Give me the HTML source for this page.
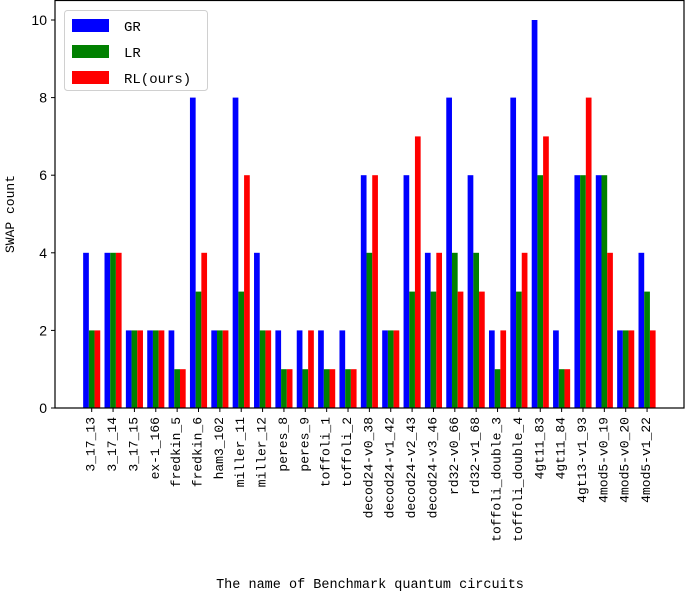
<!DOCTYPE html>
<html><head><meta charset="utf-8"><style>
body{margin:0;background:#fff;}
svg text{font-family:"Liberation Mono","Noto Sans CJK SC",monospace;fill:#000;}
</style></head><body>
<svg id="chart" width="685" height="595" xmlns="http://www.w3.org/2000/svg"></svg>
<script>
const categories=["3_17_13","3_17_14","3_17_15","ex-1_166","fredkin_5","fredkin_6","ham3_102","miller_11","miller_12","peres_8","peres_9","toffoli_1","toffoli_2","decod24-v0_38","decod24-v1_42","decod24-v2_43","decod24-v3_46","rd32-v0_66","rd32-v1_68","toffoli_double_3","toffoli_double_4","4gt11_83","4gt11_84","4gt13-v1_93","4mod5-v0_19","4mod5-v0_20","4mod5-v1_22"];
const grValues=[4,4,2,2,2,8,2,8,4,2,2,2,2,6,2,6,4,8,6,2,8,10,2,6,6,2,4];
const lrValues=[2,4,2,2,1,3,2,3,2,1,1,1,1,4,2,3,3,4,4,1,3,6,1,6,6,2,3];
const rlValues=[2,4,2,2,1,4,2,6,2,1,2,1,1,6,2,7,4,3,3,2,4,7,1,8,4,2,2];
const seriesNames=["GR","LR","RL(ours)"];
const yTicks=[0,2,4,6,8,10];

const NS="http://www.w3.org/2000/svg";
const svg=document.getElementById("chart");
const L=55,R=684,T=0,B=408;
const x0=91.7,step=21.36,bw=5.7;
const xPos=i=>x0+i*step;
const yPos=v=>B-v*38.8;
function mk(t,a){const e=document.createElementNS(NS,t);for(const k in a)e.setAttribute(k,a[k]);svg.appendChild(e);return e;}
const colors=["#0000ff","#008000","#ff0000"];
const series=[grValues,lrValues,rlValues];
series.forEach((vals,s)=>{
  vals.forEach((v,i)=>{
    const r=mk("rect",{x:xPos(i)+(s-1.5)*bw,y:yPos(v),width:bw,height:B-yPos(v),fill:colors[s]});
    
    
  });
});
const frame=mk("rect",{x:L,y:T+0.5,width:R-L,height:B-T-0.5,fill:"none",stroke:"#000","stroke-width":1.2});


yTicks.forEach(v=>{
  mk("line",{x1:L-4,x2:L,y1:yPos(v),y2:yPos(v),stroke:"#000"});
  const t=mk("text",{x:L-8,y:yPos(v)+5,"text-anchor":"end","font-size":14,style:"font-family:'Liberation Sans',sans-serif"});
  t.textContent=v;
  
  
});
categories.forEach((c,i)=>{
  const x=xPos(i);
  mk("line",{x1:x,x2:x,y1:B,y2:B+4,stroke:"#000"});
  const t=mk("text",{x:0,y:0,"text-anchor":"end","font-size":13,transform:`translate(${x+3},${B+9}) rotate(-90)`});
  t.textContent=c;
  
  
});
const yl=mk("text",{x:0,y:0,"text-anchor":"middle","font-size":13,transform:"translate(14,214) rotate(-90)"});
yl.textContent="SWAP count";


const xl=mk("text",{x:370,y:588,"text-anchor":"middle","font-size":13.5});
xl.textContent="The name of Benchmark quantum circuits";


const lg=mk("rect",{x:64.5,y:10.5,width:143,height:80,rx:3,fill:"#fff",stroke:"#d0d0d0","fill-opacity":0.8});


seriesNames.forEach((n,s)=>{
  const y=19+s*26;
  mk("rect",{x:72,y:y,width:37,height:13,fill:colors[s]});
  const t=mk("text",{x:124,y:y+12,"font-size":14});
  t.textContent=n;
  
  
});
</script>
</body></html>
